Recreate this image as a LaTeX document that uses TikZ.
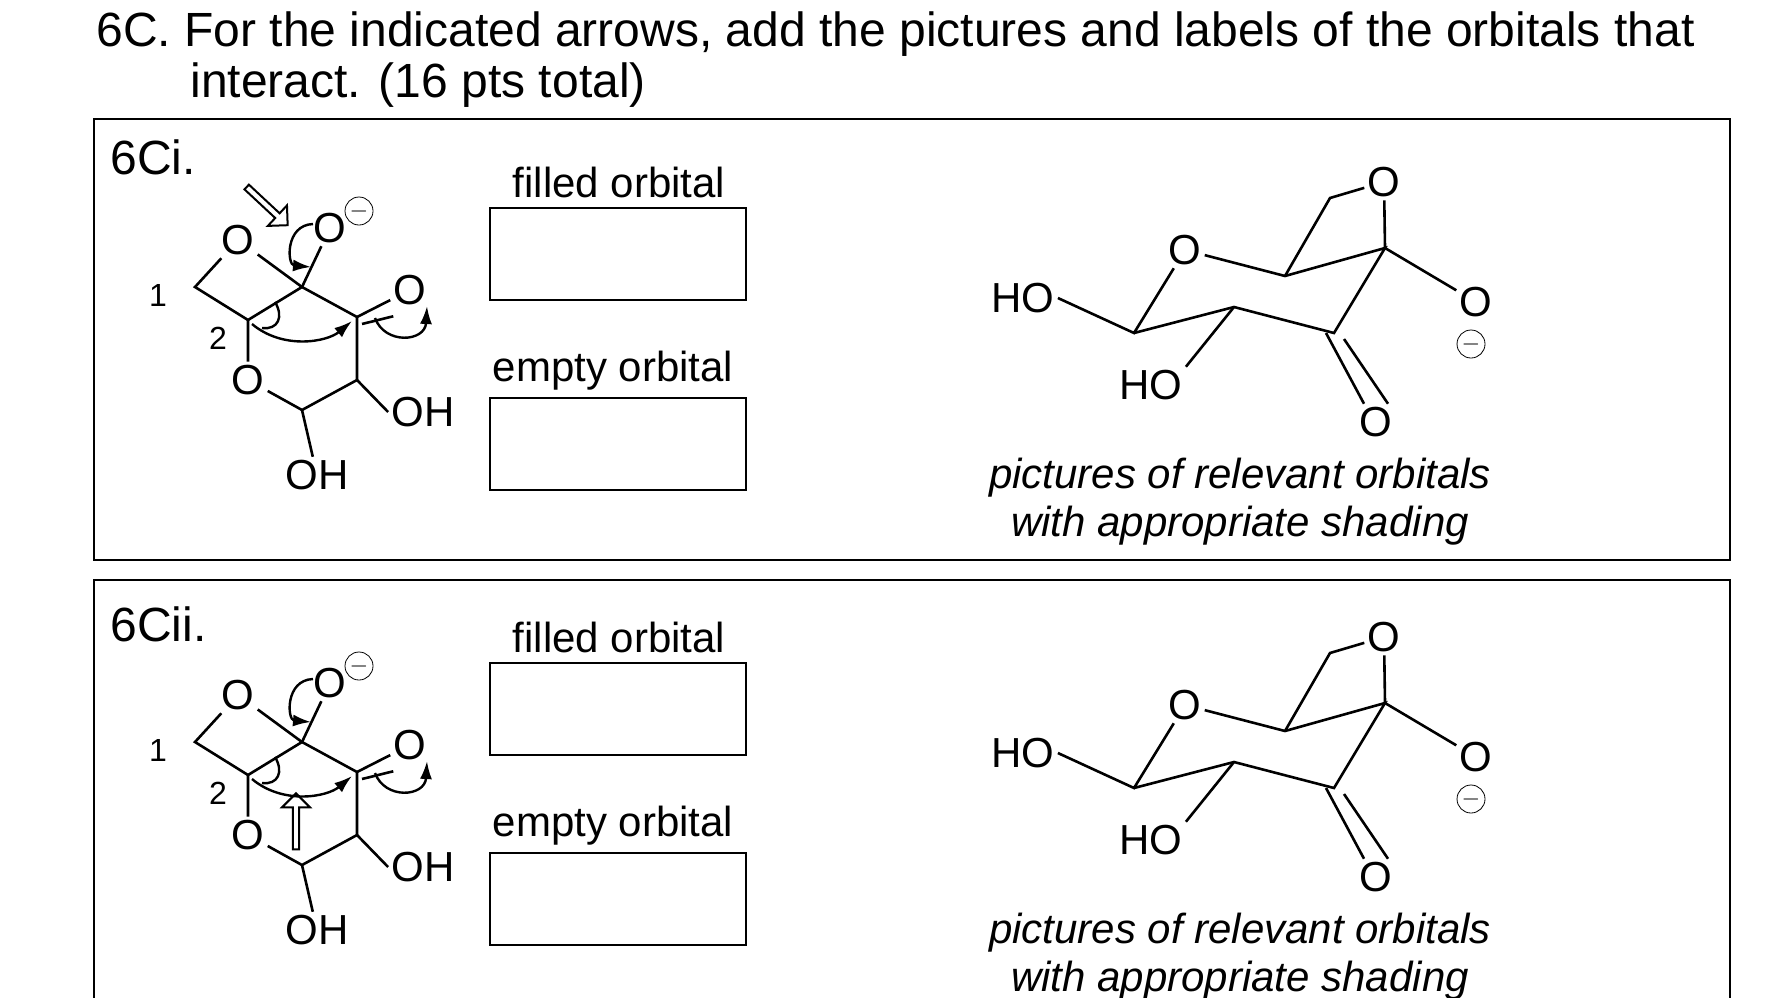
\documentclass[tikz,border=0pt]{standalone}
\usepackage{fontspec}
\setmainfont{Liberation Sans}
\usetikzlibrary{shapes.arrows,arrows.meta}

\tikzset{
  atom/.style={inner sep=1.5pt,font=\fontsize{21}{24}\selectfont},
  num/.style={inner sep=0pt,font=\fontsize{16}{18}\selectfont},
  lbl/.style={inner sep=0pt,font=\fontsize{21}{24}\selectfont},
  charge/.style={circle,draw,inner sep=0pt,minimum size=14pt,font=\fontsize{12}{12}\selectfont},
  bond/.style={line width=1.3pt},
  push/.style={line width=1.2pt,-{Latex[length=9pt,width=6pt]}},
  hollow/.style={single arrow,draw,line width=1pt,minimum height=28pt,single arrow head extend=5pt,minimum width=14pt,inner sep=1pt},
}

\begin{document}
\begin{tikzpicture}[x=0.5pt,y=-0.5pt]
  \useasboundingbox (0,0) rectangle (1770,997);

  \node (title1) [anchor=west,inner sep=0pt,font=\fontsize{24}{28}\selectfont] at (96,34)
    {6C. For the indicated arrows, add the pictures and labels of the orbitals that};
  \node (title2) [anchor=west,inner sep=0pt,font=\fontsize{24}{28}\selectfont] at (190,85)
    {interact. (16 pts total)};

  \draw[line width=1.2pt] (94,119) rectangle (1730,560);
  \draw[line width=1.2pt] (94,580) rectangle (1730,1010);
  \node (panA) [anchor=west,lbl,font=\fontsize{24}{28}\selectfont] at (110,157) {6Ci.};
  \node (panB) [anchor=west,lbl,font=\fontsize{24}{28}\selectfont] at (110,624) {6Cii.};

  \foreach \p/\dy in {a/0,b/455} {
    \begin{scope}[yshift=-\dy*0.5pt]
      % answer boxes
      \node (fill\p) [lbl] at (619,182) {filled orbital};
      \draw[line width=1.2pt] (490,208) rectangle (746,300);
      \node (empt\p) [lbl] at (613,371) {empty orbital};
      \draw[line width=1.2pt] (490,398) rectangle (746,490);

      % left molecule
      \node (ot\p) [atom] at (238,240) {O};
      \node (ol\p) [atom] at (248,380) {O};
      \node (oc\p) [atom] at (410,290) {O};
      \node (om\p) [atom] at (330,228) {O};
      \node (mc\p) [charge] at (359,211) {$-$};
      \node (oh1\p) [atom] at (423,412) {OH};
      \node (oh2\p) [atom] at (317,475) {OH};
      \node (n1\p) [num] at (158,295) {1};
      \node (n2\p) [num] at (218,338) {2};
      \coordinate (ch\p) at (195,287);
      \coordinate (cb\p) at (302,287);
      \coordinate (c2\p) at (248,320);
      \coordinate (ck\p) at (357,317);
      \coordinate (c4\p) at (357,380);
      \coordinate (c5\p) at (302,410);
      \draw[bond] (ot\p) -- (ch\p) -- (c2\p) -- (cb\p);
      \draw[bond] (ot\p) -- (cb\p) -- (ck\p) -- (c4\p) -- (c5\p) -- (ol\p) -- (c2\p);
      \draw[bond] (cb\p) -- (om\p);
      \draw[bond] (c4\p) -- (oh1\p.west);
      \draw[bond] (c5\p) -- (oh2\p);
      \draw[bond] (ck\p) -- (oc\p);
      \draw[bond] ([shift={(5,7)}]ck\p) -- ([shift={(3,8)}]oc\p.south west);
      \draw[line width=1.2pt] (275,302) .. controls (284,317) and (278,330) .. (262,328);
      \draw[push] (252,324) .. controls (283,350) and (327,342) .. (352,321);
      \draw[push] (313,224) .. controls (285,225) and (287,265) .. (311,267);
      \draw[push] (375,318) .. controls (385,345) and (425,342) .. (427,306);

      % right molecule
      \node (rot\p) [atom] at (1384,182) {O};
      \node (ro\p) [atom] at (1185,250) {O};
      \node (rom\p) [atom] at (1476,302) {O};
      \node (rmc\p) [charge] at (1471,344) {$-$};
      \node (rok\p) [atom] at (1376,422) {O};
      \node (rh1\p) [atom] at (1023,298) {HO};
      \node (rh2\p) [atom] at (1151,385) {HO};
      \coordinate (rch\p) at (1330,198);
      \coordinate (r1\p) at (1285,276);
      \coordinate (r2\p) at (1385,248);
      \coordinate (r3\p) at (1334,333);
      \coordinate (r4\p) at (1234,307);
      \coordinate (r5\p) at (1134,333);
      \draw[bond] (rh1\p.east) -- (r5\p) -- (ro\p) -- (r1\p) -- (r2\p) -- (r3\p) -- (r4\p) -- (r5\p);
      \draw[bond] (r1\p) -- (rch\p) -- (rot\p);
      \draw[bond] (rot\p) -- (r2\p) -- (rom\p);
      \draw[bond] (r4\p) -- (rh2\p.north east);
      \draw[bond] ([xshift=-4]r3\p) -- ([xshift=-6]rok\p.north);
      \draw[bond] ([xshift=5,yshift=-3]r3\p) -- ([xshift=6]rok\p.north);
      \node (cap\p) [lbl,font=\fontsize{21}{24}\selectfont\itshape] at (1240,478) {pictures of relevant orbitals};
      \node (cap2\p) [lbl,font=\fontsize{21}{24}\selectfont\itshape] at (1240,526) {with appropriate shading};
    \end{scope}
  }

  % indicated arrows
  \node (arrA) [hollow,rotate=-43] at (266,205) {};
  \node (arrB) [hollow,rotate=90] at (296,823) {};
\end{tikzpicture}
\end{document}
